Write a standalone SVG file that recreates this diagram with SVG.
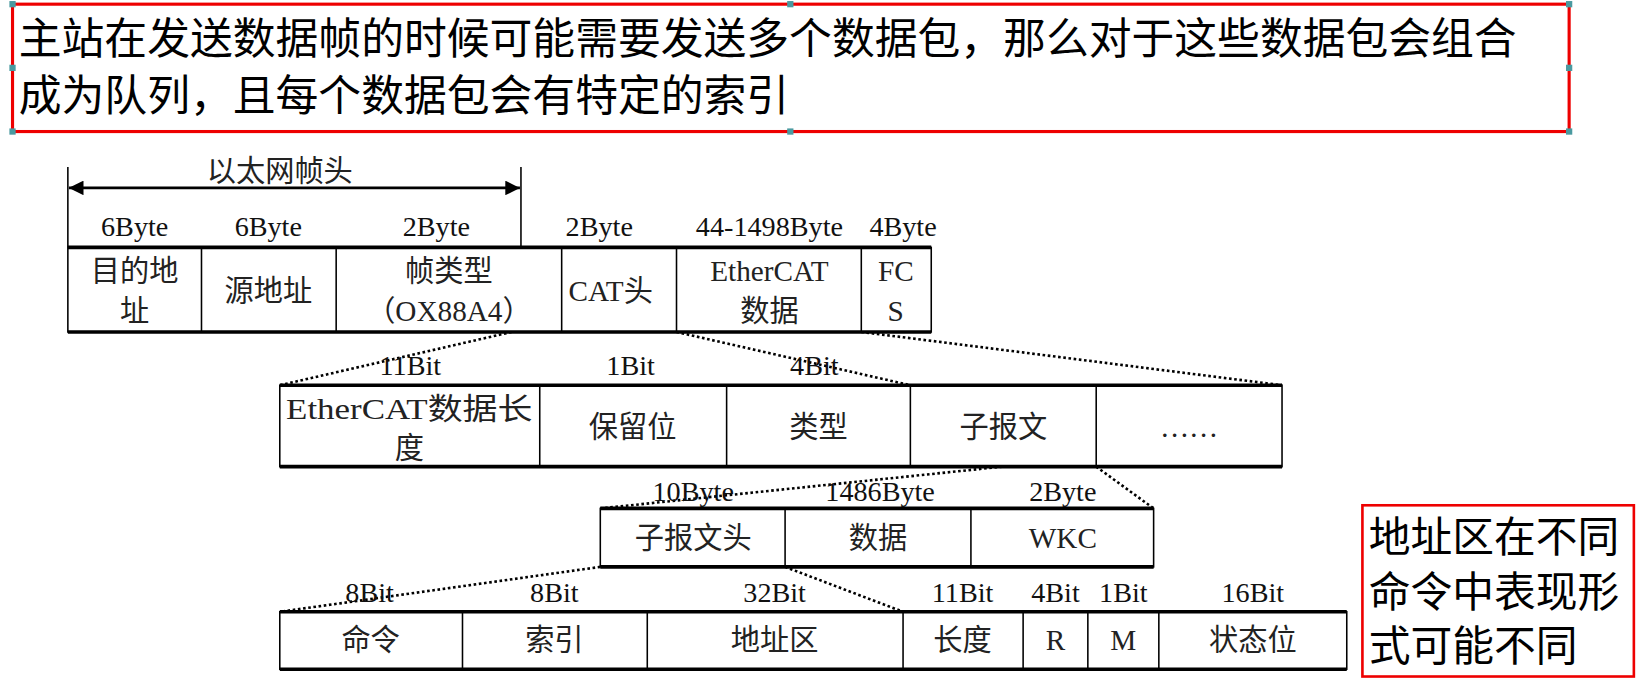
<svg xmlns="http://www.w3.org/2000/svg" width="1636" height="696" viewBox="0 0 1636 696">
<defs>
<marker id="ah" viewBox="0 0 10 10" refX="10" refY="5" markerWidth="14" markerHeight="14" markerUnits="userSpaceOnUse" orient="auto-start-reverse"><path d="M0,0 L10,5 L0,10 Z" fill="#000"/></marker>
<style>
.cjk{font-family:"Noto Sans CJK SC",sans-serif;fill:#000}
.t{font-family:"Liberation Serif","Noto Sans CJK SC",serif;font-size:27px;fill:#111;text-anchor:middle}
.c{font-family:"Liberation Serif","Noto Sans CJK SC",serif;font-size:28px;fill:#222;text-anchor:middle}
.cell{fill:#fff;stroke:#000;stroke-width:1.5}
.tb{stroke:#000;stroke-width:3.5}
.dot{stroke:#000;stroke-width:2.5;stroke-dasharray:2.5 2.5;fill:none}
.h{fill:#4a9aa0}
</style>
</defs>
<rect width="1636" height="696" fill="#fff"/>
<g transform="scale(1.044)">
<g id="note-top">
<rect x="12" y="4" width="1491" height="122" fill="none" stroke="#e00" stroke-width="3"/>
<rect class="h" x="9" y="1" width="6" height="6"/><rect class="h" x="754" y="1" width="6" height="6"/><rect class="h" x="1500" y="1" width="6" height="6"/>
<rect class="h" x="9" y="62" width="6" height="6"/><rect class="h" x="1500" y="62" width="6" height="6"/>
<rect class="h" x="9" y="123" width="6" height="6"/><rect class="h" x="754" y="123" width="6" height="6"/><rect class="h" x="1500" y="123" width="6" height="6"/>
<text class="cjk" x="18" y="52" font-size="41">主站在发送数据帧的时候可能需要发送多个数据包，那么对于这些数据包会组合</text>
<text class="cjk" x="18" y="106" font-size="41">成为队列，且每个数据包会有特定的索引</text>
</g>
<g id="connectors">
<line x1="65" y1="160" x2="65" y2="237" stroke="#000" stroke-width="1.5"/>
<line x1="499" y1="160" x2="499" y2="262" stroke="#000" stroke-width="1.5"/>
<line x1="66" y1="180" x2="498" y2="180" stroke="#000" stroke-width="2.5" marker-start="url(#ah)" marker-end="url(#ah)"/>
<path class="dot" d="M490,318 L268,369 M648,318 L872,369 M825,318 L1228,369 M960,447 L575,487 M1050,447 L1105,487 M575,543 L268,586 M752,543 L865,586"/>
</g>
<text class="c" x="268" y="173">以太网帧头</text>
<g id="frame">
<rect class="cell" x="65" y="237" width="827" height="81"/>
<line class="tb" x1="65" y1="237" x2="892" y2="237"/><line class="tb" x1="65" y1="318" x2="892" y2="318"/>
<path d="M193,237V318M322,237V318M538,237V318M648,237V318M825,237V318" stroke="#000" stroke-width="1.5"/>
<text class="t" x="129" y="226">6Byte</text><text class="t" x="257" y="226">6Byte</text><text class="t" x="418" y="226">2Byte</text><text class="t" x="574" y="226">2Byte</text><text class="t" x="737" y="226">44-1498Byte</text><text class="t" x="865" y="226">4Byte</text>
<text class="c" x="129" y="269">目的地</text><text class="c" x="129" y="307">址</text>
<text class="c" x="257" y="288">源地址</text>
<text class="c" x="430" y="269">帧类型</text><text class="c" x="430" y="307">（OX88A4）</text>
<text class="c" x="585" y="288">CAT头</text>
<text class="c" x="737" y="269">EtherCAT</text><text class="c" x="737" y="307">数据</text>
<text class="c" x="858" y="269">FC</text><text class="c" x="858" y="307">S</text>
</g>
<g id="cat-header">
<rect class="cell" x="268" y="369" width="960" height="78"/>
<line class="tb" x1="268" y1="369" x2="1228" y2="369"/><line class="tb" x1="268" y1="447" x2="1228" y2="447"/>
<path d="M517,369V447M696,369V447M872,369V447M1050,369V447" stroke="#000" stroke-width="1.5"/>
<text class="t" x="393" y="359">11Bit</text><text class="t" x="604" y="359">1Bit</text><text class="t" x="780" y="359">4Bit</text>
<text class="c" x="392" y="401" textLength="236" lengthAdjust="spacingAndGlyphs">EtherCAT数据长</text><text class="c" x="392" y="439">度</text>
<text class="c" x="606" y="419">保留位</text><text class="c" x="784" y="419">类型</text><text class="c" x="961" y="419">子报文</text><text class="c" x="1139" y="419">……</text>
</g>
<g id="sub-telegram">
<rect class="cell" x="575" y="487" width="530" height="56"/>
<line class="tb" x1="575" y1="487" x2="1105" y2="487"/><line class="tb" x1="575" y1="543" x2="1105" y2="543"/>
<path d="M752,487V543M930,487V543" stroke="#000" stroke-width="1.5"/>
<text class="t" x="664" y="480">10Byte</text><text class="t" x="843" y="480">1486Byte</text><text class="t" x="1018" y="480">2Byte</text>
<text class="c" x="664" y="525">子报文头</text><text class="c" x="841" y="525">数据</text><text class="c" x="1018" y="525">WKC</text>
</g>
<g id="sub-header">
<rect class="cell" x="268" y="586" width="1022" height="55"/>
<line class="tb" x1="268" y1="586" x2="1290" y2="586"/><line class="tb" x1="268" y1="641" x2="1290" y2="641"/>
<path d="M443,586V641M620,586V641M865,586V641M980,586V641M1042,586V641M1110,586V641" stroke="#000" stroke-width="1.5"/>
<text class="t" x="354" y="577">8Bit</text><text class="t" x="531" y="577">8Bit</text><text class="t" x="742" y="577">32Bit</text><text class="t" x="922" y="577">11Bit</text><text class="t" x="1011" y="577">4Bit</text><text class="t" x="1076" y="577">1Bit</text><text class="t" x="1200" y="577">16Bit</text>
<text class="c" x="355" y="623">命令</text><text class="c" x="531" y="623">索引</text><text class="c" x="742" y="623">地址区</text><text class="c" x="922" y="623">长度</text><text class="c" x="1011" y="623">R</text><text class="c" x="1076" y="623">M</text><text class="c" x="1200" y="623">状态位</text>
</g>
<g id="note-right">
<rect x="1305" y="484" width="260" height="164" fill="none" stroke="#e00" stroke-width="2.5"/>
<text class="cjk" x="1311" y="529" font-size="40">地址区在不同</text>
<text class="cjk" x="1311" y="581" font-size="40">命令中表现形</text>
<text class="cjk" x="1311" y="633" font-size="40">式可能不同</text>
</g>
</g>
</svg>
